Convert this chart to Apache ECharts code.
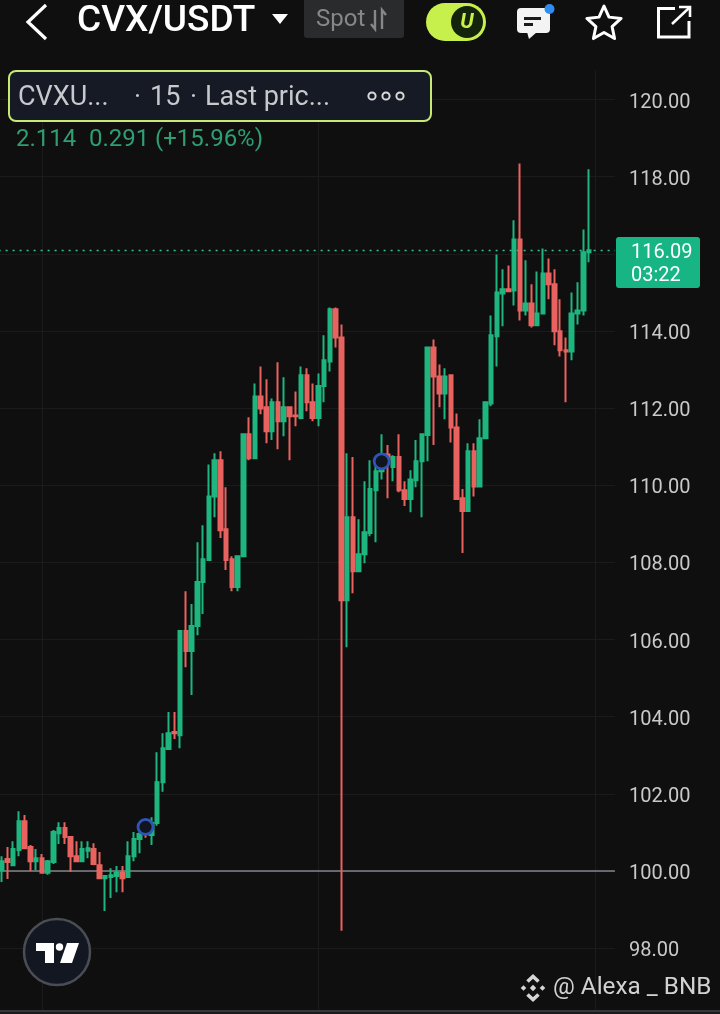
<!DOCTYPE html>
<html><head><meta charset="utf-8">
<style>html,body{margin:0;padding:0;background:#0f0f10}#c{width:720px;height:1014px}</style>
<script src="https://cdn.jsdelivr.net/npm/echarts@6/dist/echarts.min.js"></script>
</head><body><div id="c"></div>
<script>
const opens = [100.02,100.31,100.15,100.54,101.29,100.62,100.25,100.33,99.95,100.23,100.98,101.11,100.88,100.38,100.25,100.52,100.57,100.15,99.81,99.84,99.87,99.95,99.84,100.38,100.83,101.17,100.93,101.24,102.30,103.16,103.60,103.52,106.22,105.70,106.35,107.49,108.06,109.71,110.65,108.86,108.08,107.36,108.16,111.32,110.70,112.30,112.02,111.40,112.15,111.66,112.02,111.81,111.74,112.85,112.15,111.74,112.57,113.21,114.56,113.83,107.02,109.17,107.77,108.21,108.76,109.87,110.36,110.80,110.47,110.73,109.87,109.64,110.13,110.62,111.30,113.57,112.82,112.38,112.85,111.50,109.66,109.33,110.88,109.97,111.22,112.12,113.86,114.97,115.08,115.05,116.37,114.53,114.71,114.15,114.45,115.49,115.21,113.99,113.50,113.47,114.45,114.53,116.04];
const closes = [100.25,100.23,100.57,101.29,100.59,100.25,100.33,99.95,100.25,101.01,101.11,100.88,100.38,100.25,100.57,100.59,100.18,99.81,99.87,99.89,99.95,99.81,100.38,100.83,100.96,101.04,101.24,102.30,103.18,103.57,103.57,106.22,105.70,106.35,107.49,108.08,109.71,110.65,108.83,108.06,107.36,108.16,111.32,110.70,112.30,111.99,111.40,112.15,111.66,112.02,111.79,111.79,112.85,112.15,111.74,112.57,113.24,114.56,113.83,107.02,109.17,107.77,108.21,108.78,109.90,110.36,110.67,110.67,110.73,109.87,109.64,110.15,110.62,111.32,113.57,112.82,112.38,112.82,111.50,109.64,109.33,110.88,109.97,111.22,112.15,113.89,115.00,115.08,115.03,116.37,114.53,114.71,114.15,114.45,115.49,115.21,113.99,113.50,113.47,114.45,114.53,116.04,116.09];
const lows = [99.71,99.79,100.15,100.38,100.57,100.00,100.02,99.95,99.90,100.18,100.70,100.70,99.97,100.25,100.25,100.33,100.15,99.81,98.96,99.30,99.45,99.45,99.84,100.25,100.46,100.86,100.67,101.17,102.05,103.16,103.42,103.18,105.28,104.56,106.11,106.66,108.06,109.17,108.63,107.80,107.25,107.25,108.16,110.65,110.70,111.84,111.09,111.17,110.93,111.27,110.65,111.53,111.71,111.92,111.66,111.53,112.15,112.95,113.57,98.45,105.80,107.20,107.77,107.98,108.68,108.52,110.15,109.66,110.10,109.82,109.46,109.30,109.95,109.17,110.62,111.04,112.02,111.71,111.11,109.64,108.24,109.33,109.71,109.97,111.22,112.05,113.08,114.12,115.03,114.66,114.27,114.40,114.09,114.15,114.43,114.82,113.63,113.34,112.15,113.24,114.17,114.40,115.78];
const highs = [100.38,100.62,100.77,101.55,101.45,100.67,100.57,100.44,100.28,101.06,101.26,101.26,100.90,100.77,100.77,100.77,100.72,100.49,99.87,100.07,100.13,100.13,100.77,101.01,101.17,101.26,101.39,103.08,103.57,104.12,104.12,106.22,107.25,106.92,108.52,108.96,110.54,110.83,110.88,109.95,108.16,108.16,111.32,111.76,112.64,113.08,112.75,112.25,113.19,112.80,112.02,112.43,113.08,113.03,112.64,112.90,113.89,114.61,114.61,114.17,110.83,110.73,109.12,110.10,110.65,110.60,111.32,111.04,110.78,111.32,110.10,110.39,111.17,111.32,113.57,113.78,113.13,113.03,112.85,111.86,109.90,111.09,111.09,111.71,112.17,114.40,115.98,115.60,115.70,116.87,118.34,115.83,115.21,115.54,116.14,115.88,115.60,114.82,113.83,115.00,115.26,116.63,118.19];
const emptySlots = 4;
const categories = opens.concat(new Array(emptySlots).fill(0)).map((_, i) => 'c' + i);
const tickMin = 96, tickMax = 122, tickStep = 2;
const gridCandles = ['c7', 'c55', 'c103'];
const lastPrice = 116.09, basePrice = 100;
const signals = [['c25', 101.14], ['c66', 110.62]];
const lastLabel = '116.09', countdown = '03:22';

const UP = '#1fb57f', DOWN = '#e8625f', BG = '#0f0f10', GRID = '#1b1b1d', LIME = '#c8f04c';
const FONT = 'Roboto, sans-serif';
const candles = opens.map((o, i) => [o, closes[i], lows[i], highs[i]]);

const t = (text, x, y, size, fill, extra) => ({ type: 'text', z: 101, silent: true,
  style: Object.assign({ text, x, y: y + 2, fill, font: `${(extra && extra.w) || 400} ${size}px ${FONT}`, textVerticalAlign: 'middle', textAlign: 'left' }, extra && extra.s) });
const starPts = [];
for (let k = 0; k < 10; k++) {
  const r = k % 2 ? 8.5 : 18, a = -Math.PI / 2 + k * Math.PI / 5;
  starPts.push([604 + r * Math.cos(a), 24 + r * Math.sin(a)]);
}
const diamond = (cx, cy, r) => ({ type: 'polygon', z: 101, silent: true, shape: { points: [[cx, cy - r], [cx + r, cy], [cx, cy + r], [cx - r, cy]] }, style: { fill: '#d5d5d5' } });
const chevron = (pts) => ({ type: 'polyline', z: 101, silent: true, shape: { points: pts }, style: { stroke: '#d5d5d5', lineWidth: 3.6, fill: null } });

const graphics = [
  { type: 'rect', z: 100, silent: true, shape: { x: 0, y: 0, width: 720, height: 70 }, style: { fill: BG } },
  { type: 'polyline', z: 101, silent: true, shape: { points: [[46, 5], [28, 22], [46, 39]] }, style: { stroke: '#fff', lineWidth: 3.2, fill: null } },
  t('CVX/USDT', 77, 20, 37, '#fff', { w: 500 }),
  { type: 'polygon', z: 101, silent: true, shape: { points: [[272, 14], [288, 14], [280, 24]] }, style: { fill: '#fff' } },
  { type: 'rect', z: 101, silent: true, shape: { x: 304, y: -4, width: 100, height: 42, r: 3 }, style: { fill: '#2a2b2d' } },
  t('Spot', 316, 18, 24, '#86878b'),
  { type: 'polyline', z: 102, silent: true, shape: { points: [[375, 10], [375, 29], [371, 24]] }, style: { stroke: '#86878b', lineWidth: 2.4, fill: null } },
  { type: 'polyline', z: 102, silent: true, shape: { points: [[382, 29], [382, 10], [386, 15]] }, style: { stroke: '#86878b', lineWidth: 2.4, fill: null } },
  { type: 'rect', z: 101, silent: true, shape: { x: 426, y: 3, width: 60, height: 38, r: 19 }, style: { fill: LIME } },
  { type: 'circle', z: 102, silent: true, shape: { cx: 467, cy: 22, r: 16 }, style: { fill: '#14240c' } },
  { type: 'text', z: 103, silent: true, style: { text: 'U', x: 467, y: 23, fill: LIME, font: `italic 700 21px ${FONT}`, textAlign: 'center', textVerticalAlign: 'middle' } },
  { type: 'rect', z: 101, silent: true, shape: { x: 517, y: 8, width: 33, height: 25, r: 4 }, style: { fill: '#f3f3f3' } },
  { type: 'polygon', z: 101, silent: true, shape: { points: [[527, 32], [537, 32], [529, 39]] }, style: { fill: '#f3f3f3' } },
  { type: 'rect', z: 102, silent: true, shape: { x: 524, y: 17, width: 17, height: 3 }, style: { fill: '#1a1a1a' } },
  { type: 'rect', z: 102, silent: true, shape: { x: 524, y: 23, width: 9, height: 3 }, style: { fill: '#1a1a1a' } },
  { type: 'circle', z: 103, silent: true, shape: { cx: 549.5, cy: 9, r: 5 }, style: { fill: '#2f8cf0' } },
  { type: 'polygon', z: 101, silent: true, shape: { points: starPts }, style: { stroke: '#fff', lineWidth: 3, fill: null, lineJoin: 'round' } },
  { type: 'polyline', z: 101, silent: true, shape: { points: [[675, 8.5], [658.5, 8.5], [658.5, 37], [689, 37], [689, 21]] }, style: { stroke: '#fff', lineWidth: 3, fill: null } },
  { type: 'polyline', z: 101, silent: true, shape: { points: [[672, 24], [689, 8]] }, style: { stroke: '#fff', lineWidth: 2.6, fill: null } },
  { type: 'polyline', z: 101, silent: true, shape: { points: [[679, 7], [690, 7], [690, 17]] }, style: { stroke: '#fff', lineWidth: 2.6, fill: null } },

  { type: 'rect', z: 101, silent: true, shape: { x: 9, y: 71, width: 422, height: 50, r: 7 }, style: { fill: '#151a24', stroke: '#c6e978', lineWidth: 2 } },
  t('CVXU...', 18, 96, 27, '#c8c9cd'),
  t('·', 134, 96, 27, '#c8c9cd'),
  t('15', 150, 96, 27, '#c8c9cd'),
  t('·', 190, 96, 27, '#c8c9cd'),
  t('Last pric...', 205, 96, 27, '#c8c9cd'),
  ...[372, 386, 400].map(cx => ({ type: 'circle', z: 102, silent: true, shape: { cx, cy: 96, r: 3.6 }, style: { fill: null, stroke: '#d8d8d8', lineWidth: 2 } })),
  t('2.114', 16, 138, 24, '#2f9e72'),
  t('0.291', 89, 138, 24, '#2f9e72'),
  t('(+15.96%)', 155, 138, 24, '#2f9e72'),

  { type: 'rect', z: 101, silent: true, shape: { x: 616, y: 237, width: 84, height: 51, r: 3 }, style: { fill: '#17b583' } },
  t(lastLabel, 631, 251, 20, '#fff'),
  t(countdown, 631, 274, 20, '#fff'),

  { type: 'circle', z: 101, silent: true, shape: { cx: 57, cy: 952, r: 33 }, style: { fill: '#131722', stroke: '#4b4d54', lineWidth: 2.5 } },
  { type: 'polygon', z: 102, silent: true, shape: { points: [[36, 943], [54, 943], [54, 963], [45, 963], [45, 951], [36, 951]] }, style: { fill: '#fff' } },
  { type: 'circle', z: 102, silent: true, shape: { cx: 59.5, cy: 947, r: 3.7 }, style: { fill: '#fff' } },
  { type: 'polygon', z: 102, silent: true, shape: { points: [[67, 943], [79, 943], [72, 963], [60, 963]] }, style: { fill: '#fff' } },

  diamond(533, 988, 3.2),
  chevron([[527.5, 981.5], [533, 976.5], [538.5, 981.5]]),
  chevron([[527.5, 994.5], [533, 999.5], [538.5, 994.5]]),
  diamond(523.5, 988, 2.8),
  diamond(542.5, 988, 2.8),
  t('@ Alexa _ BNB', 553, 986, 24.3, '#d2d2d2'),
  { type: 'rect', z: 101, silent: true, shape: { x: 0, y: 1010, width: 720, height: 2 }, style: { fill: '#36373a' } },
  { type: 'rect', z: 101, silent: true, shape: { x: 0, y: 1012, width: 720, height: 2 }, style: { fill: '#1a1a1c' } }
];

const chart = echarts.init(document.getElementById('c'), null, { renderer: 'canvas' });
chart.setOption({
  animation: false,
  backgroundColor: BG,
  grid: { left: -1.38, top: 22.4, width: 616.32, height: 1002.8, containLabel: false, outerBoundsMode: 'none', show: false },
  xAxis: { type: 'category', data: categories, boundaryGap: true, axisLine: { show: false }, axisTick: { show: false }, axisLabel: { show: false }, splitLine: { show: false } },
  yAxis: {
    type: 'value', position: 'right', min: tickMin, max: tickMax, interval: tickStep, scale: true,
    axisLine: { show: false }, axisTick: { show: false },
    axisLabel: { margin: 14, verticalAlign: 'top', lineHeight: 6, color: '#c9c9c9', fontFamily: FONT, fontSize: 20, formatter: v => (v === tickMin || v === tickMax) ? '' : v.toFixed(2) },
    splitLine: { show: true, lineStyle: { color: GRID, width: 1 } }
  },
  series: [
    {
      type: 'candlestick', data: candles, barWidth: 4, z: 2,
      itemStyle: { color: UP, color0: DOWN, borderColor: UP, borderColor0: DOWN, borderWidth: 2 },
      markLine: {
        silent: true, symbol: 'none', z: 1, animation: false, label: { show: false },
        data: [
          ...gridCandles.map(c => ({ xAxis: c, lineStyle: { color: GRID, width: 1, type: 'solid' } })),
          { yAxis: basePrice, lineStyle: { color: '#85858c', width: 1.6, type: 'solid' } },
          { yAxis: lastPrice, lineStyle: { color: '#2fc595', width: 1.4, type: [2, 5] } }
        ]
      }
    },
    {
      type: 'scatter', data: signals, symbol: 'circle', symbolSize: 15, z: 5, silent: true,
      itemStyle: { color: '#10151f', borderColor: '#2f55b8', borderWidth: 2.8, opacity: 1 }
    }
  ],
  graphic: { elements: graphics }
});
</script></body></html>
